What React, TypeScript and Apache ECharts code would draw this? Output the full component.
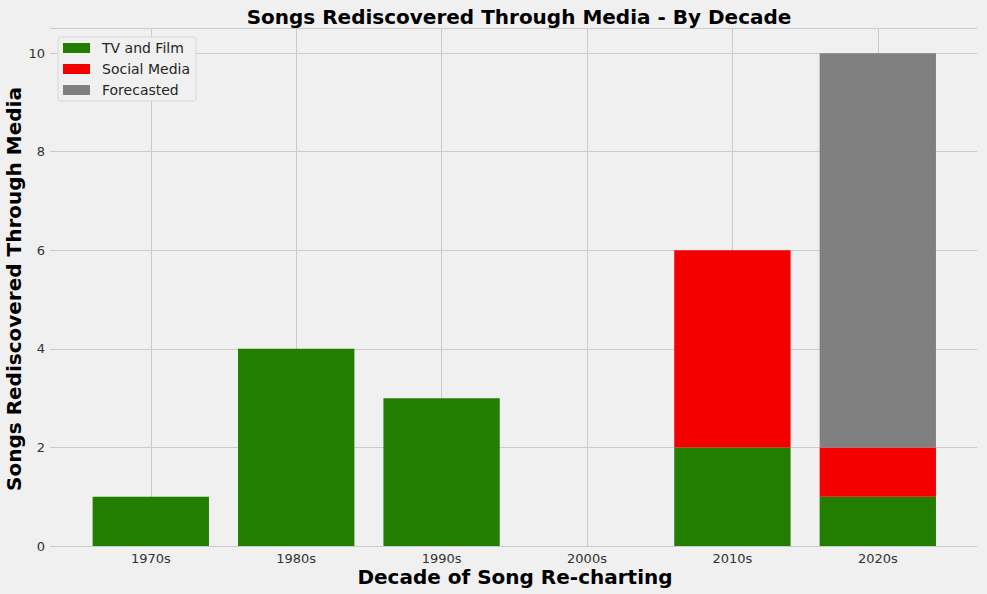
import React, { useEffect, useRef } from 'react';
import * as echarts from 'echarts';

const decades = ['1970s', '1980s', '1990s', '2000s', '2010s', '2020s'];
const tvAndFilm = [1, 4, 3, 0, 2, 1];
const socialMedia = [0, 0, 0, 0, 4, 1];
const forecasted = [0, 0, 0, 0, 0, 8];

const FONT = '"DejaVu Sans", sans-serif';

export default function App() {
  const chartRef = useRef<HTMLDivElement>(null);

  useEffect(() => {
    if (!chartRef.current) return;
    const myChart = echarts.init(chartRef.current, null, { renderer: 'svg' });

    const top = 28.5;
    const bottom = 48;

    const option: echarts.EChartsOption = {
      animation: false,
      backgroundColor: '#f0f0f0',
      textStyle: { fontFamily: FONT },
      title: {
        text: 'Songs Rediscovered Through Media - By Decade',
        left: 514,
        top: 2,
        textAlign: 'center',
        textStyle: { fontFamily: FONT, fontSize: 20, fontWeight: 'bold', color: '#000' },
      },
      legend: {
        data: ['TV and Film', 'Social Media', 'Forecasted'],
        orient: 'vertical',
        left: 58,
        top: 37,
        icon: 'rect',
        itemWidth: 27,
        itemHeight: 10,
        itemGap: 7,
        padding: [4, 6, 4, 5],
        backgroundColor: '#f0f0f0',
        borderColor: '#d8d8d8',
        borderWidth: 1,
        borderRadius: 3,
        textStyle: { fontFamily: FONT, fontSize: 14, color: '#262626', padding: [0, 0, 0, 7] },
      },
      grid: [
        { left: 50, right: 10, top, bottom },
        { left: 78.1, width: 872.4, top, bottom },
        { left: 150.8, width: 727, top, bottom },
      ],
      xAxis: [
        { type: 'value', gridIndex: 0, min: 0, max: 1, show: false },
        {
          type: 'category',
          gridIndex: 1,
          data: decades,
          axisLine: { show: false },
          axisTick: { show: false },
          splitLine: { show: false },
          axisLabel: { fontFamily: FONT, fontSize: 13, color: '#333', margin: 6 },
        },
        {
          type: 'category',
          gridIndex: 2,
          data: decades,
          boundaryGap: false,
          axisLine: { show: false },
          axisTick: { show: false },
          axisLabel: { show: false },
          splitLine: { show: true, lineStyle: { color: '#cbcbcb', width: 1 } },
        },
      ],
      yAxis: [
        {
          type: 'value',
          gridIndex: 0,
          min: 0,
          max: 10.5,
          interval: 2,
          axisLine: { show: false },
          axisTick: { show: false },
          axisLabel: {
            fontFamily: FONT,
            fontSize: 13,
            color: '#333',
            margin: 5,
            showMaxLabel: false,
          },
          splitLine: { show: true, lineStyle: { color: '#cbcbcb', width: 1 } },
        },
        { type: 'value', gridIndex: 1, min: 0, max: 10.5, show: false },
        { type: 'value', gridIndex: 2, min: 0, max: 1, show: false },
      ],
      graphic: [
        {
          type: 'text',
          x: 14,
          y: 289,
          rotation: Math.PI / 2,
          style: {
            text: 'Songs Rediscovered Through Media',
            font: `bold 20px ${FONT}`,
            fill: '#000',
            textAlign: 'center',
            textVerticalAlign: 'middle',
          },
        },
        {
          type: 'text',
          x: 515,
          y: 577,
          style: {
            text: 'Decade of Song Re-charting',
            font: `bold 20px ${FONT}`,
            fill: '#000',
            textAlign: 'center',
            textVerticalAlign: 'middle',
          },
        },
      ],
      series: [
        {
          name: 'TV and Film',
          type: 'bar',
          stack: 'total',
          xAxisIndex: 1,
          yAxisIndex: 1,
          barCategoryGap: '20%',
          itemStyle: { color: '#237d00' },
          data: tvAndFilm,
        },
        {
          name: 'Social Media',
          type: 'bar',
          stack: 'total',
          xAxisIndex: 1,
          yAxisIndex: 1,
          barCategoryGap: '20%',
          itemStyle: { color: '#f50000' },
          data: socialMedia,
        },
        {
          name: 'Forecasted',
          type: 'bar',
          stack: 'total',
          xAxisIndex: 1,
          yAxisIndex: 1,
          barCategoryGap: '20%',
          itemStyle: { color: '#808080' },
          data: forecasted,
        },
      ],
    };

    myChart.setOption(option);

    return () => {
      myChart.dispose();
    };
  }, []);

  return (
    <div
      ref={chartRef}
      style={{ position: 'fixed', left: 0, top: 0, width: '987px', height: '594px' }}
    />
  );
}
